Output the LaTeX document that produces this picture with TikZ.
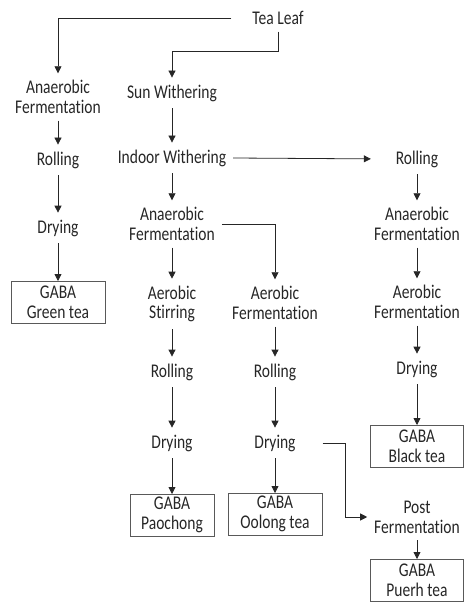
\documentclass[tikz,border=0pt]{standalone}
\usepackage{fontspec}
\setmainfont[FakeStretch=0.8, Ligatures={NoCommon}]{Carlito}
\usetikzlibrary{arrows.meta,positioning,calc}

\begin{document}
\begin{tikzpicture}[x=1pt, y=-1pt,
  lbl/.style={font=\fontsize{19.4}{19.8}\selectfont, align=center,
    inner sep=1pt, outer sep=6pt, text=black!85},
  gaba/.style={lbl, draw=black!65, line width=0.9pt, outer sep=0pt,
    minimum height=42pt},
  arr/.style={-{Triangle[length=7pt, width=7pt]}, draw=black!85,
    line width=0.8pt}]
  \useasboundingbox (0,0) rectangle (474,612);
  % stages
  \node[lbl] (tea)    at (278, 18)  {Tea Leaf};
  \node[lbl] (anL)    at (58, 97)   {Anaerobic\\Fermentation};
  \node[lbl] (sun)    at (172, 93)  {Sun Withering};
  \node[lbl] (indoor) at (172, 158) {Indoor Withering};
  \node[lbl] (rolL)   at (58, 160)  {Rolling};
  \node[lbl] (dryL)   at (58, 228)  {Drying};
  \node[lbl] (rolR)   at (417, 159) {Rolling};
  \node[lbl] (anM)    at (172, 224) {Anaerobic\\Fermentation};
  \node[lbl] (anR)    at (417, 224) {Anaerobic\\Fermentation};
  \node[lbl] (stir)   at (172, 304) {Aerobic\\Stirring};
  \node[lbl] (aerM)   at (275, 303) {Aerobic\\Fermentation};
  \node[lbl] (aerR)   at (417, 302) {Aerobic\\Fermentation};
  \node[lbl] (rolM)   at (172, 372) {Rolling};
  \node[lbl] (rolO)   at (275, 372) {Rolling};
  \node[lbl] (dryR)   at (417, 369) {Drying};
  \node[lbl] (dryM)   at (172, 443) {Drying};
  \node[lbl] (dryO)   at (275, 443) {Drying};
  \node[lbl] (post)   at (417, 517) {Post\\Fermentation};
  % products
  \node[gaba, minimum width=94pt] (green)  at (58, 302)  {GABA\\Green tea};
  \node[gaba, minimum width=93pt] (black)  at (417, 446) {GABA\\Black tea};
  \node[gaba, minimum width=84pt] (pao)    at (172, 515) {GABA\\Paochong};
  \node[gaba, minimum width=94pt] (oolong) at (275, 514) {GABA\\Oolong tea};
  \node[gaba, minimum width=93pt] (puerh)  at (417, 580) {GABA\\Puerh tea};
  % connectors
  \draw[arr] ([xshift=-14pt]tea.west) -| (anL.north);
  \draw[arr] (tea.south) -- (tea.south |- 0,51) -| (sun.north);
  \draw[arr, shorten >=18pt] (indoor.east) -- (rolR.west);
  \draw[arr] (anM.east) -| (aerM.north);
  \draw[arr] ([xshift=20pt]dryO.east) -- ++(23,0) |- (post.west);
  \foreach \a/\b in {anL/rolL, rolL/dryL, dryL/green, sun/indoor, indoor/anM,
      anM/stir, stir/rolM, rolM/dryM, dryM/pao, aerM/rolO, rolO/dryO,
      dryO/oolong, rolR/anR, anR/aerR, aerR/dryR, dryR/black, post/puerh}
    \draw[arr] (\a) -- (\b);
\end{tikzpicture}
\end{document}
